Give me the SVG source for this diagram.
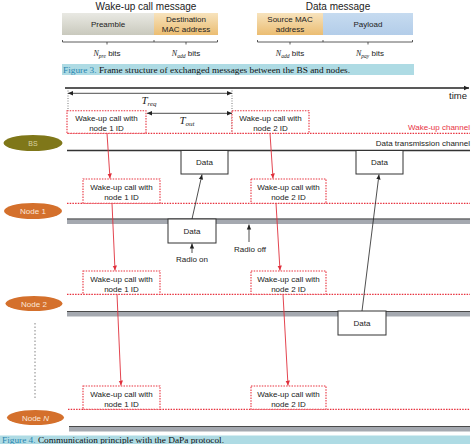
<svg xmlns="http://www.w3.org/2000/svg" width="474" height="444" viewBox="0 0 474 444">
<defs>
<style>
.s{font-family:"Liberation Sans",Arial,sans-serif;fill:#222}
.t8{font-size:8px}
.c{text-anchor:middle}
.wb{fill:#fff;stroke:#e8323f;stroke-width:1.1;stroke-dasharray:1.5 1.2}
.wl{stroke:#e8323f;stroke-width:1.2;stroke-dasharray:1.5 1.2;fill:none}
.ra{stroke:#e0303c;stroke-width:0.9;fill:none;marker-end:url(#ar)}
.ba{stroke:#222;stroke-width:0.8;fill:none;marker-end:url(#ab)}
.db{fill:#fff;stroke:#333;stroke-width:1}
.bar{fill:#a5a9b0}
.bt{stroke:#4a4a4a;stroke-width:1.2}
.nd{fill:#d4702c}
.nt{font-family:"Liberation Sans",Arial,sans-serif;font-size:8px;fill:#fbe6d6;text-anchor:middle}
.it{font-family:"Liberation Serif","Times New Roman",serif;font-style:italic}
.cap{font-family:"Liberation Serif","Times New Roman",serif;font-size:9px;fill:#111}
</style>
<linearGradient id="gpre" x1="0" y1="0" x2="0" y2="1"><stop offset="0" stop-color="#e9e9e3"/><stop offset="1" stop-color="#c9c9bd"/></linearGradient>
<linearGradient id="gmac" x1="0" y1="0" x2="0" y2="1"><stop offset="0" stop-color="#f7e3bd"/><stop offset="1" stop-color="#ebbd72"/></linearGradient>
<linearGradient id="gpay" x1="0" y1="0" x2="0" y2="1"><stop offset="0" stop-color="#c6dbf0"/><stop offset="1" stop-color="#b3cde9"/></linearGradient>
<marker id="ar" markerWidth="6" markerHeight="6" refX="5" refY="3" orient="auto" markerUnits="userSpaceOnUse"><path d="M0,0.8 L5,3 L0,5.2 z" fill="#e0303c"/></marker>
<marker id="ab" markerWidth="6" markerHeight="6" refX="5" refY="3" orient="auto" markerUnits="userSpaceOnUse"><path d="M0,0.8 L5,3 L0,5.2 z" fill="#222"/></marker>
<marker id="ad" markerWidth="6" markerHeight="6" refX="5" refY="3" orient="auto-start-reverse" markerUnits="userSpaceOnUse"><path d="M0,0.8 L5,3 L0,5.2 z" fill="#222"/></marker>
</defs>

<!-- Figure 3 -->
<g id="wakeup-message">
<text class="s c" x="146" y="9.5" font-size="10">Wake-up call message</text>
<rect x="62" y="13" width="92" height="22" fill="url(#gpre)"/>
<rect x="154" y="13" width="64" height="22" fill="url(#gmac)"/>
<text class="s t8 c" x="108" y="27">Preamble</text>
<text class="s t8 c" x="186" y="22">Destination</text>
<text class="s t8 c" x="186" y="31.5">MAC address</text>
<path d="M62.5,40 V42 H217.5 V40 M154,40 V42 M107,42 V44.5 M186,42 V44.5" stroke="#333" stroke-width="0.8" fill="none"/>
<text class="s t8 c" x="107" y="56"><tspan class="it">N</tspan><tspan class="it" font-size="5.5" dy="1.5">pre</tspan><tspan dy="-1.5"> bits</tspan></text>
<text class="s t8 c" x="186" y="56"><tspan class="it">N</tspan><tspan class="it" font-size="5.5" dy="1.5">add</tspan><tspan dy="-1.5"> bits</tspan></text>
</g>
<g id="data-message">
<text class="s c" x="338" y="9.5" font-size="10">Data message</text>
<rect x="257" y="13" width="66" height="22" fill="url(#gmac)"/>
<rect x="323" y="13" width="90" height="22" fill="url(#gpay)"/>
<text class="s t8 c" x="290" y="22">Source MAC</text>
<text class="s t8 c" x="290" y="31.5">address</text>
<text class="s t8 c" x="368" y="27">Payload</text>
<path d="M257.5,40 V42 H412.5 V40 M323,40 V42 M290,42 V44.5 M368,42 V44.5" stroke="#333" stroke-width="0.8" fill="none"/>
<text class="s t8 c" x="290" y="56"><tspan class="it">N</tspan><tspan class="it" font-size="5.5" dy="1.5">add</tspan><tspan dy="-1.5"> bits</tspan></text>
<text class="s t8 c" x="370" y="56"><tspan class="it">N</tspan><tspan class="it" font-size="5.5" dy="1.5">pay</tspan><tspan dy="-1.5"> bits</tspan></text>
</g>
<g id="caption3">
<rect x="62" y="64" width="352" height="11" fill="#aedbe4"/>
<text class="cap" x="63" y="72.5" textLength="287" lengthAdjust="spacingAndGlyphs"><tspan fill="#2a86b0">Figure 3.</tspan> Frame structure of exchanged messages between the BS and nodes.</text>
</g>

<!-- Figure 4 -->
<g id="time-axis">
<line x1="65" y1="88" x2="469" y2="88" stroke="#222" stroke-width="1.3" marker-end="url(#ab)"/>
<text class="s c" x="458" y="99" font-size="9.5">time</text>
<line x1="68" y1="88" x2="68" y2="133" stroke="#555" stroke-width="0.8" stroke-dasharray="1 1.5"/>
<line x1="232" y1="88" x2="232" y2="133" stroke="#555" stroke-width="0.8" stroke-dasharray="1 1.5"/>
<line x1="68" y1="93.3" x2="232" y2="93.3" stroke="#222" stroke-width="0.8" marker-start="url(#ad)" marker-end="url(#ad)"/>
<text class="it" x="149" y="104" font-size="11" text-anchor="middle" fill="#222">T<tspan font-size="7" dy="2">req</tspan></text>
<line x1="147" y1="113.3" x2="232" y2="113.3" stroke="#222" stroke-width="0.8" marker-start="url(#ad)" marker-end="url(#ad)"/>
<text class="it" x="187" y="124" font-size="11" text-anchor="middle" fill="#222">T<tspan font-size="7" dy="2">out</tspan></text>
</g>

<g id="channels">
<line class="wl" x1="67" y1="133.3" x2="470" y2="133.3"/>
<text class="s t8" x="470" y="130" text-anchor="end" style="fill:#e8323f">Wake-up channel</text>
<text class="s t8" x="470" y="146" text-anchor="end">Data transmission channel</text>
<line x1="67" y1="150.5" x2="470" y2="150.5" stroke="#333" stroke-width="1.5"/>
<line class="wl" x1="67" y1="203.3" x2="470" y2="203.3"/>
<rect class="bar" x="67" y="218.5" width="403" height="5.5"/>
<line class="bt" x1="67" y1="219" x2="470" y2="219"/>
<line class="wl" x1="67" y1="294.3" x2="470" y2="294.3"/>
<rect class="bar" x="67" y="311" width="403" height="5.5"/>
<line class="bt" x1="67" y1="311.5" x2="470" y2="311.5"/>
<line class="wl" x1="68" y1="409.3" x2="470" y2="409.3"/>
<rect class="bar" x="69" y="426" width="401" height="5.5"/>
<line class="bt" x1="69" y1="426.5" x2="470" y2="426.5"/>
<line x1="35" y1="323" x2="35" y2="398" stroke="#777" stroke-width="0.9" stroke-dasharray="1.5 2"/>
</g>

<g id="bs">
<ellipse cx="33" cy="143" rx="29.5" ry="8" fill="#7f7719"/>
<text class="nt" x="33" y="145.5" style="font-size:7px;fill:#d9d3a0">BS</text>
</g>
<g id="node1"><ellipse class="nd" cx="33" cy="211" rx="29" ry="8"/><text class="nt" x="33" y="214">Node 1</text></g>
<g id="node2"><ellipse class="nd" cx="34" cy="303.5" rx="28.5" ry="7.5"/><text class="nt" x="34" y="306.5">Node 2</text></g>
<g id="nodeN"><ellipse class="nd" cx="35.5" cy="417.5" rx="28.5" ry="7.5"/><text class="nt" x="35.5" y="420.5">Node <tspan font-style="italic">N</tspan></text></g>

<g id="bs-wakeup1"><rect class="wb" x="67" y="110.7" width="79" height="22.6"/><text class="s t8 c" x="106.5" y="121">Wake-up call with</text><text class="s t8 c" x="106.5" y="131">node 1 ID</text></g>
<g id="bs-wakeup2"><rect class="wb" x="232" y="110.7" width="77" height="22.6"/><text class="s t8 c" x="270.5" y="121">Wake-up call with</text><text class="s t8 c" x="270.5" y="131">node 2 ID</text></g>
<g id="n1-wakeup1"><rect class="wb" x="83" y="179" width="77" height="24.3"/><text class="s t8 c" x="121.5" y="190">Wake-up call with</text><text class="s t8 c" x="121.5" y="200">node 1 ID</text></g>
<g id="n1-wakeup2"><rect class="wb" x="251" y="179" width="75" height="24.3"/><text class="s t8 c" x="288.5" y="190">Wake-up call with</text><text class="s t8 c" x="288.5" y="200">node 2 ID</text></g>
<g id="n2-wakeup1"><rect class="wb" x="83" y="271" width="77" height="23.3"/><text class="s t8 c" x="121.5" y="281.5">Wake-up call with</text><text class="s t8 c" x="121.5" y="291.5">node 1 ID</text></g>
<g id="n2-wakeup2"><rect class="wb" x="251" y="271" width="75" height="23.3"/><text class="s t8 c" x="288.5" y="281.5">Wake-up call with</text><text class="s t8 c" x="288.5" y="291.5">node 2 ID</text></g>
<g id="nN-wakeup1"><rect class="wb" x="83" y="386" width="77" height="23.3"/><text class="s t8 c" x="121.5" y="396.5">Wake-up call with</text><text class="s t8 c" x="121.5" y="406.5">node 1 ID</text></g>
<g id="nN-wakeup2"><rect class="wb" x="251" y="386" width="75" height="23.3"/><text class="s t8 c" x="288.5" y="396.5">Wake-up call with</text><text class="s t8 c" x="288.5" y="406.5">node 2 ID</text></g>

<g id="bs-data1"><rect class="db" x="181" y="150.5" width="47" height="23.5"/><text class="s t8 c" x="204.5" y="165">Data</text></g>
<g id="bs-data2"><rect class="db" x="356" y="150.5" width="47" height="23.5"/><text class="s t8 c" x="379.5" y="165">Data</text></g>
<g id="n1-data"><rect class="db" x="168" y="219" width="48" height="24"/><text class="s t8 c" x="192" y="234">Data</text></g>
<g id="n2-data"><rect class="db" x="338" y="311" width="48" height="24"/><text class="s t8 c" x="362" y="326">Data</text></g>

<g id="labels">
<text class="s t8 c" x="192" y="262">Radio on</text>
<text class="s t8 c" x="250" y="252">Radio off</text>
</g>

<g id="connectors">
<path class="ra" d="M107,133.3 L110,178.5"/>
<path class="ra" d="M270,133.3 L273,178.5"/>
<path class="ra" d="M112,203.3 L115,270.5"/>
<path class="ra" d="M276,203.3 L280,270.5"/>
<path class="ra" d="M117,294.3 L121,385.5"/>
<path class="ra" d="M283,294.3 L288,385.5"/>
<path class="ba" d="M192,219 L202,174.5"/>
<path class="ba" d="M362,311 L379,174.5"/>
<path class="ba" d="M192,253 L192,243.5"/>
<path class="ba" d="M249,242 L249,224.5"/>
</g>

<g id="caption4">
<rect x="0" y="435.5" width="470" height="8.5" fill="#aedbe4"/>
<text class="cap" x="2" y="442.5" font-size="8" style="font-size:8px" textLength="222" lengthAdjust="spacingAndGlyphs"><tspan fill="#2a86b0">Figure 4.</tspan> Communication principle with the DaPa protocol.</text>
</g>
</svg>
